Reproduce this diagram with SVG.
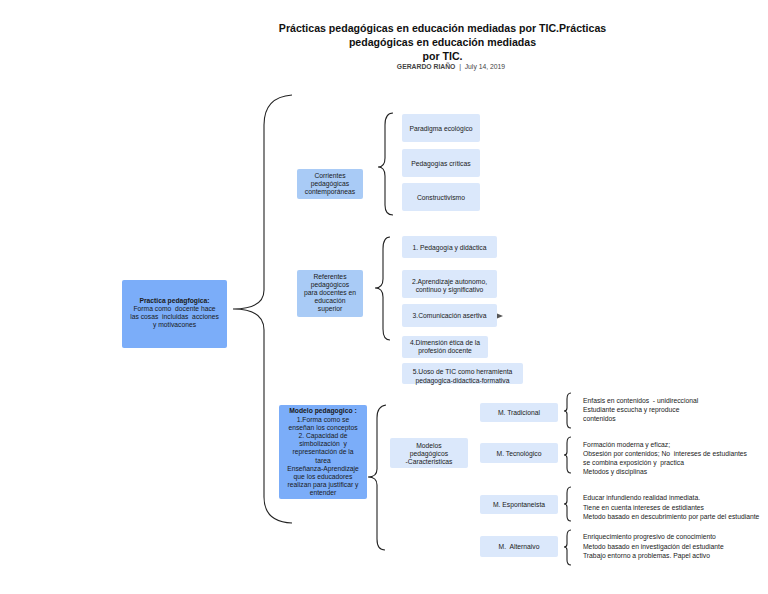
<svg xmlns="http://www.w3.org/2000/svg" width="768" height="594" viewBox="0 0 768 594">
<style>
text{font-family:"Liberation Sans",Arial,sans-serif;fill:#1a1a1a;white-space:pre}
.t{font-size:10.6px;font-weight:bold;text-anchor:middle;fill:#111}
.s{font-size:6.8px;text-anchor:middle;fill:#444}
.n{font-size:6.75px;text-anchor:middle}
.b{font-weight:bold}
.r{font-size:6.75px;text-anchor:start}
.dk{fill:#7badf9}
.md{fill:#a9cbf6}
.lt{fill:#dbe8fb}
.br{fill:none;stroke:#222;stroke-width:1.1}
</style>
<rect width="768" height="594" fill="#fff"/>
<g id="title">
<text class="t" x="442.5" y="31.5">Prácticas pedagógicas en educación mediadas por TIC.Prácticas</text>
<text class="t" x="442.5" y="45.5">pedagógicas en educación mediadas</text>
<text class="t" x="442.5" y="60">por TIC.</text>
<text class="s" x="451" y="69"><tspan font-weight="bold">GERARDO RIAÑO</tspan>  |  July 14, 2019</text>
</g>
<g id="connectors">
<path class="br" d="M292,95 Q264,97 264,125 L264,290 Q264,309 233,309 Q264,309 264,330 L264,497 Q264,522 292,523"/>
<path class="br" d="M393,113 Q385,113 385,125 L385,158 Q385,167 378,167 Q385,167 385,176 L385,205 Q385,215 393,215"/>
<path class="br" d="M390,237 Q383,237 383,249 L383,279 Q383,288 375,288 Q383,288 383,297 L383,329 Q383,340 390,340"/>
<path class="br" d="M386,405 Q377,406 377,418 L377,469 Q377,477 368,477 Q377,477 377,485 L377,539 Q377,550 385,550"/>
<path class="br" d="M571,393 Q567,393 567,399 L567,408 Q567,411 564,411 Q567,411 567,414 L567,423 Q567,428 571,428"/>
<path class="br" d="M571,437 Q567,437 567,443 L567,452 Q567,455 564,455 Q567,455 567,458 L567,468 Q567,473 571,473"/>
<path class="br" d="M571,487 Q567,487 567,493 L567,501 Q567,504 564,504 Q567,504 567,507 L567,516 Q567,521 571,521"/>
<path class="br" d="M571,530 Q567,530 567,536 L567,544 Q567,547 564,547 Q567,547 567,550 L567,560 Q567,565 571,565"/>
<path d="M497,313.5 L503,316 L497,318.5 Z" fill="#555"/>
</g>
<g id="practica">
<rect class="dk" x="122" y="280" width="105" height="68" rx="2"/>
<text class="n" x="174.5" y="303"><tspan class="b">Practica pedagfogica:</tspan><tspan x="174.5" dy="8">Forma como  docente hace</tspan><tspan x="174.5" dy="8">las cosas  incluidas  acciones</tspan><tspan x="174.5" dy="8">y motivacones</tspan></text>
</g>
<g id="corrientes">
<rect class="md" x="297" y="169" width="66" height="30" rx="2"/>
<text class="n" x="330" y="178">Corrientes<tspan x="330" dy="8">pedagógicas</tspan><tspan x="330" dy="8">contemporáneas</tspan></text>
</g>
<g id="referentes">
<rect class="md" x="297" y="270" width="66" height="47" rx="2"/>
<text class="n" x="330" y="279">Referentes<tspan x="330" dy="8">pedagógicos</tspan><tspan x="330" dy="8">para docentes en</tspan><tspan x="330" dy="8">educación</tspan><tspan x="330" dy="8">superior</tspan></text>
</g>
<g id="paradigma"><rect class="lt" x="402" y="114" width="78" height="28" rx="2"/><text class="n" x="441" y="130.5">Paradigma ecológico</text></g>
<g id="criticas"><rect class="lt" x="402" y="149" width="78" height="28" rx="2"/><text class="n" x="441" y="165.5">Pedagogías críticas</text></g>
<g id="constructivismo"><rect class="lt" x="402" y="183" width="78" height="28" rx="2"/><text class="n" x="441" y="199.5">Constructivismo</text></g>
<g id="ref1"><rect class="lt" x="402" y="236" width="95" height="22" rx="2"/><text class="n" x="449.5" y="249.5">1. Pedagogía y didáctica</text></g>
<g id="ref2"><rect class="lt" x="402" y="270" width="95" height="28" rx="2"/><text class="n" x="449.5" y="283.5">2.Aprendizaje autonomo,<tspan x="449.5" dy="8">continuo y significativo</tspan></text></g>
<g id="ref3"><rect class="lt" x="402" y="304" width="95" height="23" rx="2"/><text class="n" x="449.5" y="318">3.Comunicación asertiva</text></g>
<g id="ref4"><rect class="lt" x="402" y="336" width="86" height="22" rx="2"/><text class="n" x="445" y="345">4.Dimensión ética de la<tspan x="445" dy="8">profesión docente</tspan></text></g>
<g id="ref5"><rect class="lt" x="402" y="363" width="121" height="21" rx="2"/><text class="n" x="462.5" y="374">5.Uoso de TIC como herramienta<tspan x="462.5" dy="8.5">pedagogica-didactica-formativa</tspan></text></g>
<g id="modelo">
<rect class="dk" x="279" y="405" width="88" height="94" rx="2"/>
<text class="n" x="323" y="413.3"><tspan class="b">Modelo pedagogico :</tspan><tspan x="323" dy="8.2">1.Forma como se</tspan><tspan x="323" dy="8.2">enseñan los conceptos</tspan><tspan x="323" dy="8.2">2. Capacidad de</tspan><tspan x="323" dy="8.2">simbolización  y</tspan><tspan x="323" dy="8.2">representación de la</tspan><tspan x="323" dy="8.2">tarea</tspan><tspan x="323" dy="8.2">Enseñanza-Aprendizaje</tspan><tspan x="323" dy="8.2">que los educadores</tspan><tspan x="323" dy="8.2">realizan para justificar y</tspan><tspan x="323" dy="8.2">entender</tspan></text>
</g>
<g id="modelos">
<rect class="lt" x="390" y="438" width="78" height="30" rx="2"/>
<text class="n" x="429" y="447.5">Modelos<tspan x="429" dy="8.3">pedagógicos</tspan><tspan x="429" dy="8.3">-Caracteristicas</tspan></text>
</g>
<g id="tradicional">
<rect class="lt" x="480" y="403" width="78" height="19" rx="2"/><text class="n" x="519" y="414.5">M. Tradicional</text>
<text class="r" x="583" y="403.3">Enfasis en contenidos  - unidireccional<tspan x="583" dy="9">Estudiante escucha y reproduce</tspan><tspan x="583" dy="8.5">contenidos</tspan></text>
</g>
<g id="tecnologico">
<rect class="lt" x="480" y="443" width="78" height="20" rx="2"/><text class="n" x="519" y="455.5">M. Tecnológico</text>
<text class="r" x="583" y="447.3">Formación moderna y eficaz;<tspan x="583" dy="9">Obsesión por contenidos; No  intereses de estudiantes</tspan><tspan x="583" dy="9">se combina exposición y  practica</tspan><tspan x="583" dy="9">Metodos y disciplinas</tspan></text>
</g>
<g id="espontaneista">
<rect class="lt" x="480" y="495" width="78" height="19" rx="2"/><text class="n" x="519" y="507">M. Espontaneista</text>
<text class="r" x="583" y="500.3">Educar infundiendo realidad inmediata.<tspan x="583" dy="9.5">Tiene en cuenta intereses de estidiantes</tspan><tspan x="583" dy="9.5">Metodo basado en descubrimiento por parte del estudiante</tspan></text>
</g>
<g id="alternativo">
<rect class="lt" x="480" y="536" width="78" height="21" rx="2"/><text class="n" x="519" y="549">M.  Alternaivo</text>
<text class="r" x="583" y="539.3">Enriquecimiento progresivo de conocimiento<tspan x="583" dy="9.5">Metodo basado en investigación del estudiante</tspan><tspan x="583" dy="9.5">Trabajo entorno a problemas. Papel activo</tspan></text>
</g>
</svg>
